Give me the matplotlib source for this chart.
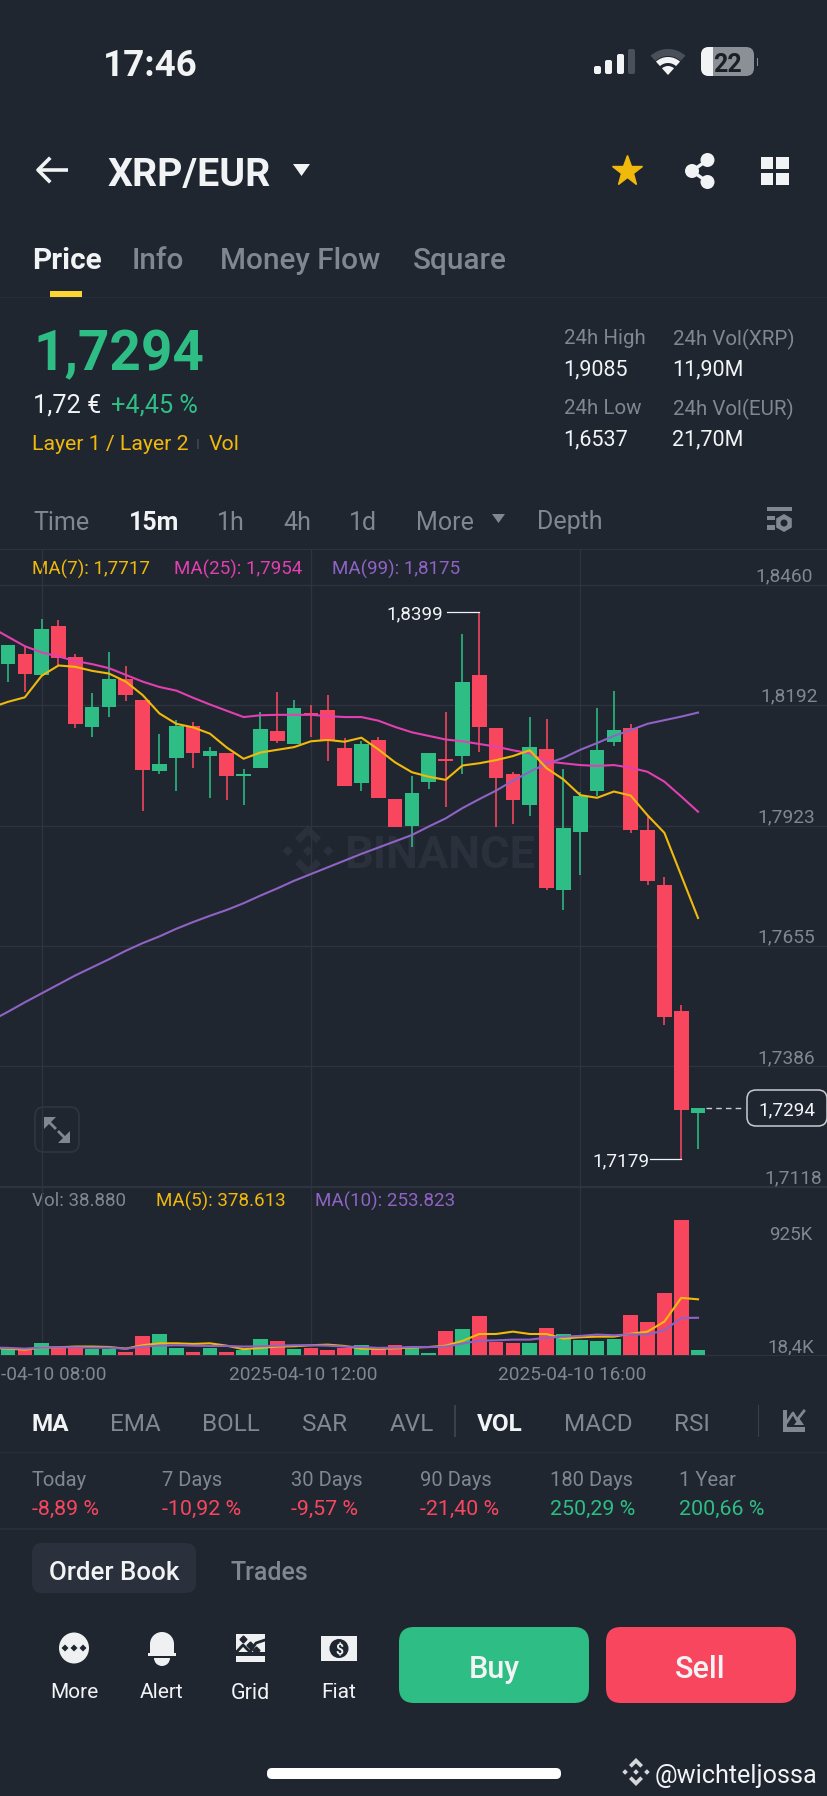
import matplotlib
matplotlib.use('Agg')
import matplotlib.pyplot as plt
from matplotlib.patches import Circle, Ellipse, FancyBboxPatch, Polygon, Rectangle, RegularPolygon, Wedge
from matplotlib.transforms import ScaledTranslation

plt.rcParams['font.family'] = ['Roboto', 'DejaVu Sans']

BG = '#1f2630'
GRID = '#2d333f'
GREEN = '#2ebd85'
RED = '#f9465f'
GRAY = '#7f8792'
WHITE = '#f1f3f5'
YELLOW = '#f0b90b'
PINK = '#e23fb0'
PURPLE = '#8f63c4'

# candles
opens = [1.8284, 1.8305, 1.8258, 1.8367, 1.8300, 1.8143, 1.8188, 1.8249, 1.8203, 1.8044, 1.8073,
         1.8144, 1.8078, 1.8084, 1.8034, 1.8052, 1.8133, 1.8105, 1.8173, 1.8180, 1.8096, 1.8018,
         1.8114, 1.7982, 1.7923, 1.8020, 1.8072, 1.8078, 1.8258, 1.8140, 1.8037, 1.7968, 1.8093,
         1.7779, 1.7909, 1.8001, 1.8109, 1.8141, 1.7913, 1.7791, 1.7510, 1.7283]
highs = [1.8326, 1.8322, 1.8383, 1.8381, 1.8306, 1.8219, 1.8310, 1.8279, 1.8203, 1.8127, 1.8159,
         1.8154, 1.8099, 1.8084, 1.8050, 1.8177, 1.8221, 1.8202, 1.8191, 1.8214, 1.8118, 1.8112,
         1.8120, 1.7982, 1.8034, 1.8084, 1.8177, 1.8350, 1.8399, 1.8140, 1.8042, 1.8165, 1.8160,
         1.8049, 1.7999, 1.8185, 1.8223, 1.8149, 1.7947, 1.7808, 1.7523, 1.7294]
lows = [1.8244, 1.8220, 1.8258, 1.8281, 1.8141, 1.8121, 1.8165, 1.8200, 1.7955, 1.8038, 1.8001,
        1.8052, 1.7985, 1.7980, 1.7968, 1.8052, 1.8108, 1.8105, 1.8121, 1.8066, 1.8012, 1.8001,
        1.7985, 1.7919, 1.7876, 1.8004, 1.7965, 1.8038, 1.8088, 1.7919, 1.7927, 1.7945, 1.7780,
        1.7735, 1.7813, 1.7988, 1.8101, 1.7906, 1.7791, 1.7479, 1.7179, 1.7203]
closes = [1.8326, 1.8262, 1.8362, 1.8297, 1.8150, 1.8187, 1.8250, 1.8215, 1.8048, 1.8061, 1.8146,
          1.8084, 1.8090, 1.8034, 1.8038, 1.8138, 1.8111, 1.8186, 1.8170, 1.8114, 1.8012, 1.8105,
          1.7985, 1.7919, 1.7996, 1.8084, 1.8066, 1.8243, 1.8142, 1.8030, 1.7979, 1.8099, 1.7784,
          1.7917, 1.7988, 1.8091, 1.8136, 1.7913, 1.7800, 1.7497, 1.7288, 1.7294]

# moving averages start one candle left of the screen
ma7 = [1.8186, 1.8199, 1.8209, 1.8257, 1.8280, 1.8277, 1.8268, 1.8262, 1.8244, 1.8214, 1.8173,
       1.8150, 1.8142, 1.8128, 1.8097, 1.8072, 1.8086, 1.8092, 1.8098, 1.8111, 1.8114, 1.8110,
       1.8119, 1.8093, 1.8064, 1.8042, 1.8032, 1.8025, 1.8057, 1.8062, 1.8069, 1.8078, 1.8091,
       1.8051, 1.8026, 1.7991, 1.7985, 1.7999, 1.7990, 1.7946, 1.7907, 1.7812, 1.7717]
ma25 = [1.8365, 1.8344, 1.8323, 1.8309, 1.8300, 1.8290, 1.8283, 1.8274, 1.8259, 1.8244, 1.8232,
        1.8224, 1.8208, 1.8193, 1.8179, 1.8165, 1.8169, 1.8170, 1.8170, 1.8170, 1.8167, 1.8165,
        1.8165, 1.8157, 1.8143, 1.8131, 1.8123, 1.8115, 1.8111, 1.8105, 1.8099, 1.8091, 1.8084,
        1.8066, 1.8062, 1.8058, 1.8056, 1.8058, 1.8052, 1.8043, 1.8021, 1.7988, 1.7954]
ma99 = [1.7488, 1.7508, 1.7529, 1.7549, 1.7569, 1.7589, 1.7607, 1.7625, 1.7644, 1.7661, 1.7676,
        1.7693, 1.7708, 1.7722, 1.7735, 1.7750, 1.7767, 1.7783, 1.7800, 1.7815, 1.7830, 1.7845,
        1.7860, 1.7874, 1.7888, 1.7902, 1.7921, 1.7939, 1.7962, 1.7982, 1.8001, 1.8023, 1.8043,
        1.8061, 1.8074, 1.8092, 1.8107, 1.8123, 1.8136, 1.8150, 1.8158, 1.8166, 1.8175]

# volume in thousands
volumes = [40.6, 36, 81, 50, 50, 45, 43, 25, 133, 142, 50, 23, 52, 20, 36, 108, 99, 43, 50, 34, 50,
           72, 52, 70, 54, 18, 162, 180, 266, 88, 83, 81, 185, 144, 106, 97, 110, 275, 223, 419, 915,
           38.88]
vol_ma5 = [49.6, 45, 38, 52, 54, 59, 59, 56, 45, 68, 81, 81, 77, 81, 65, 41, 50, 59, 61, 68, 72, 63,
           45, 43, 47, 52, 56, 65, 97, 144, 144, 160, 144, 144, 113, 122, 126, 126, 146, 160, 228,
           388, 378.6]
vol_ma10 = [52, 50, 45, 52, 54, 54, 52, 52, 45, 59, 65, 68, 65, 63, 63, 59, 61, 65, 68, 68, 65, 59,
            56, 50, 52, 56, 56, 59, 79, 99, 101, 106, 106, 119, 126, 131, 140, 135, 142, 140, 169,
            252, 253.8]

price_ticks = [1.8460, 1.8192, 1.7923, 1.7655, 1.7386, 1.7118]
price_tick_labels = ['1,8460', '1,8192', '1,7923', '1,7655', '1,7386', '1,7118']
time_ticks = [2, 18, 34]
# the first label runs off the left edge of the screen, only this part shows
time_labels = ['-04-10 08:00', '2025-04-10 12:00', '2025-04-10 16:00']
period_names = ['Today', '7 Days', '30 Days', '90 Days', '180 Days', '1 Year']
period_changes = ['-8,89 %', '-10,92 %', '-9,57 %', '-21,40 %', '250,29 %', '200,66 %']

W, H = 828, 1796
fig = plt.figure(figsize=(W / 100, H / 100), dpi=100, facecolor=BG)

# whole screen in pixel coordinates, sits under the chart axes
ui = fig.add_axes([0, 0, 1, 1], zorder=0)
ui.set_xlim(0, W)
ui.set_ylim(H, 0)
ui.axis('off')


def txt(x, y, s, color=WHITE, size=14.5, ha='left', weight='normal'):
    ui.text(x, y, s, color=color, fontsize=size, ha=ha, va='center_baseline', fontweight=weight)


def rect(x0, y0, x1, y1, color):
    ui.add_patch(Rectangle((x0, y0), x1 - x0, y1 - y0, fc=color, ec='none'))


def rounded(x0, y0, x1, y1, r, fc, ec='none', lw=0):
    ui.add_patch(FancyBboxPatch((x0 + r, y0 + r), x1 - x0 - 2 * r, y1 - y0 - 2 * r,
                                boxstyle=f'round,pad={r},rounding_size={r}', fc=fc, ec=ec, lw=lw))


def logo(cx, cy, r, color):
    """Binance mark: three small diamonds and two chevrons."""
    for dx in (-0.78, 0, 0.78):
        s = 0.2 * r
        x = cx + dx * r
        ui.add_patch(Polygon([(x, cy - s), (x + s, cy), (x, cy + s), (x - s, cy)], fc=color, ec='none'))
    for sign in (-1, 1):
        pts = [(0, 1), (0.5, 0.5), (0.31, 0.31), (0, 0.62), (-0.31, 0.31), (-0.5, 0.5)]
        ui.add_patch(Polygon([(cx + a * r, cy + sign * b * r) for a, b in pts], fc=color, ec='none'))


# --- status bar
txt(103, 62, '17:46', size=26.5, weight='bold')
for x0, x1, top, col in [(594, 601, 66, WHITE), (605, 612, 60, WHITE), (617, 624, 54, WHITE), (628, 635, 49, '#4a505a')]:
    rounded(x0, top, x1, 74, 2, col)
ui.add_patch(Wedge((668, 75), 26, 228, 312, width=7, fc='#4a505a', ec='none'))
ui.add_patch(Wedge((668, 75), 18, 228, 312, width=6, fc=WHITE, ec='none'))
ui.add_patch(Wedge((668, 75), 9, 228, 312, fc=WHITE, ec='none'))
rounded(701, 47, 754, 76, 8, '#8b8f96')
rounded(701, 47, 722, 76, 8, WHITE)
rect(713, 47, 722, 76, '#8b8f96')
rect(757, 58, 758, 66, '#8b8f96')
txt(728, 62, '22', color='#1b1f27', size=18, ha='center', weight='bold')

# --- header
ui.plot([39, 68], [170, 170], color=WHITE, lw=2.6, solid_capstyle='butt')
ui.plot([49, 38, 49], [159, 170, 181], color=WHITE, lw=2.6)
txt(108, 171, 'XRP/EUR', size=28.3, weight='bold')
ui.add_patch(Polygon([(293, 164), (310, 164), (301.5, 176)], fc=WHITE, ec='none'))
ui.plot([627], [171], marker='*', ms=23, color=YELLOW, mec=YELLOW)
ui.plot([707.5, 692, 707.5], [160, 171, 182], color=WHITE, lw=2.4)
for cx, cy in [(707.5, 160), (692, 171), (707.5, 182)]:
    ui.add_patch(Circle((cx, cy), 7, fc=WHITE, ec='none'))
for x0, x1, y0, y1 in [(761, 773, 157, 169), (776, 789, 157, 169), (761, 773, 173, 185), (776, 789, 173, 185)]:
    rect(x0, y0, x1, y1, WHITE)

# --- tabs
txt(32, 258, 'Price', size=21.4, weight='bold')
txt(132, 258, 'Info', color=GRAY, size=21.4, weight='medium')
txt(220, 258, 'Money Flow', color=GRAY, size=21.4, weight='medium')
txt(413, 258, 'Square', color=GRAY, size=21.4, weight='medium')
rect(50, 291, 82, 296.5, '#fcd535')
rect(0, 296.5, W, 298, '#282e39')

# --- price block
txt(33, 350, '1,7294', color=GREEN, size=39.5, weight='bold')
txt(33, 403, '1,72 €', size=18.2)
txt(111, 403, '+4,45 %', color=GREEN, size=18.2)
txt(32, 443, 'Layer 1 / Layer 2', color=YELLOW, size=15.3)
rect(197.5, 439, 199, 449, '#3a404b')
txt(209, 443, 'Vol', color=YELLOW, size=15.3)
txt(564, 337, '24h High', color=GRAY, size=14.8)
txt(673, 337, '24h Vol(XRP)', color=GRAY, size=14.8)
txt(563, 367, '1,9085', size=15.5)
txt(672, 367, '11,90M', size=15.5)
txt(564, 407, '24h Low', color=GRAY, size=14.8)
txt(673, 407, '24h Vol(EUR)', color=GRAY, size=14.8)
txt(563, 437, '1,6537', size=15.5)
txt(672, 437, '21,70M', size=15.5)

# --- interval row
for x, s in [(33, 'Time'), (217, '1h'), (283, '4h'), (349, '1d'), (416, 'More'), (537, 'Depth')]:
    txt(x, 520, s, color=GRAY, size=18)
txt(129, 520, '15m', size=18, weight='bold')
ui.add_patch(Polygon([(492, 514), (505, 514), (498.5, 523)], fc=GRAY, ec='none'))
rect(767, 507, 792, 511, GRAY)
rect(767, 516, 775, 520, GRAY)
rect(767, 525, 775, 530, GRAY)
ui.add_patch(RegularPolygon((784, 523), 6, radius=9, fc=GRAY, ec='none'))
ui.add_patch(Circle((784, 523), 3.5, fc=BG, ec='none'))

# --- chart legends and watermark
txt(32, 567, 'MA(7): 1,7717', color=YELLOW, size=13.5)
txt(174, 567, 'MA(25): 1,7954', color=PINK, size=13.5)
txt(332, 567, 'MA(99): 1,8175', color=PURPLE, size=13.5)
logo(308, 851, 26, '#2a313c')
txt(344, 851, 'BINANCE', color='#2a313c', size=32.5, weight='bold')

# --- price panel
PX = 16.83
x_left = -0.475
x_right = x_left + W / PX
top_px, bottom_px = 549, 1186.7
px_per_unit = 4487
ax = fig.add_axes([0, 1 - bottom_px / H, 1, (bottom_px - top_px) / H], zorder=1)
ax.patch.set_alpha(0)
ax.set_xlim(x_left, x_right)
ax.set_ylim(1.8192 - (bottom_px - 705) / px_per_unit, 1.8192 + (705 - top_px) / px_per_unit)

candle_x = list(range(len(opens)))
colors = [GREEN if c >= o else RED for o, c in zip(opens, closes)]
ax.vlines(candle_x, lows, highs, colors=colors, lw=1.15, zorder=2)
ax.bar(candle_x, [abs(c - o) for o, c in zip(opens, closes)], bottom=[min(o, c) for o, c in zip(opens, closes)],
       width=0.87, color=colors, zorder=3)
ma_x = list(range(-1, len(opens)))
ax.plot(ma_x, ma99, color=PURPLE, lw=1.5, zorder=4)
ax.plot(ma_x, ma25, color=PINK, lw=1.5, zorder=5)
ax.plot(ma_x, ma7, color=YELLOW, lw=1.5, zorder=6)

ax.set_xticks(time_ticks)
ax.set_yticks(price_ticks)
ax.grid(color=GRID, lw=1, zorder=0)
ax.tick_params(length=0, labelbottom=False, labelleft=False)
for name, spine in ax.spines.items():
    spine.set_visible(name == 'top')
    spine.set_color(GRID)
ax.axhline(price_ticks[-1], color=GRID, lw=1.6, clip_on=False)

offset = ScaledTranslation(0, 10.5 / 100, fig.dpi_scale_trans)
label_tf = ax.get_yaxis_transform() + offset
for p, s, x_frac in zip(price_ticks, price_tick_labels, [0.947, 0.953, 0.95, 0.95, 0.949, 0.958]):
    ax.text(x_frac, p, s, transform=label_tf, color=GRAY, fontsize=13.8, ha='center', va='center_baseline')

# high / low markers
hi_i = highs.index(max(highs))
lo_i = lows.index(min(lows))
ax.plot([hi_i - 1.9, hi_i], [highs[hi_i]] * 2, color=WHITE, lw=0.9, zorder=7)
ax.text(hi_i - 2.15, highs[hi_i], '1,8399', color=WHITE, fontsize=13.6, ha='right', va='center_baseline')
ax.plot([lo_i, lo_i - 1.85], [lows[lo_i]] * 2, color=WHITE, lw=0.9, zorder=7)
ax.text(lo_i - 1.85, lows[lo_i], '1,7179', color=WHITE, fontsize=13.6, ha='right', va='center_baseline')

# last price tag
ax.plot([41.45, 43.8], [closes[-1]] * 2, color='#c9ccd1', lw=1, ls=(0, (4, 3)), zorder=7)
rounded(747, 1090, 827, 1126, 9, BG, ec='#c9ccd1', lw=1.1)
txt(787, 1108, '1,7294', size=13.6, ha='center')

# expand button
rounded(35, 1107, 79, 1152, 9, 'none', ec=GRID, lw=1.4)
ui.add_patch(Polygon([(44, 1117), (56, 1117), (44, 1129)], fc=GRAY, ec='none'))
ui.add_patch(Polygon([(70, 1143), (58, 1143), (70, 1131)], fc=GRAY, ec='none'))
ui.plot([48, 55], [1121, 1128], color=GRAY, lw=2)
ui.plot([59, 66], [1132, 1139], color=GRAY, lw=2)

# --- volume panel
txt(32, 1199, 'Vol: 38.880', color=GRAY, size=13.5)
txt(156, 1199, 'MA(5): 378.613', color=YELLOW, size=13.5)
txt(315, 1199, 'MA(10): 253.823', color=PURPLE, size=13.5)
txt(791, 1233, '925K', color=GRAY, size=13.5, ha='center')
txt(791, 1345, '18,4K', color=GRAY, size=13.5, ha='center')

vol_base = 1355.3
vax = fig.add_axes([0, 1 - vol_base / H, 1, (vol_base - bottom_px) / H], zorder=1)
vax.patch.set_alpha(0)
vax.set_xlim(x_left, x_right)
vax.set_ylim(0, (vol_base - bottom_px) * 6.76)
vax.bar(candle_x, volumes, width=0.87, color=colors, zorder=3)
vax.plot(ma_x, vol_ma5, color=YELLOW, lw=1.5, zorder=4)
vax.plot(ma_x, vol_ma10, color=PURPLE, lw=1.5, zorder=5)
vax.set_yticks([])
vax.set_xticks(time_ticks)
vax.set_xticklabels(time_labels, color=GRAY, fontsize=13.7)
vax.grid(axis='x', color=GRID, lw=1, zorder=0)
vax.tick_params(length=0, pad=8)
for name, spine in vax.spines.items():
    spine.set_visible(name == 'bottom')
    spine.set_color(GRID)
shift = ScaledTranslation(-8 / 100, 0, fig.dpi_scale_trans)
for lab in vax.get_xticklabels():
    lab.set_transform(lab.get_transform() + shift)
first = vax.get_xticklabels()[0]
first.set_ha('left')
first.set_transform(first.get_transform() + ScaledTranslation(-33 / 100, 0, fig.dpi_scale_trans))

# --- indicator row
for x, s in [(110, 'EMA'), (202, 'BOLL'), (302, 'SAR'), (390, 'AVL'), (564, 'MACD'), (674, 'RSI')]:
    txt(x, 1422, s, color=GRAY, size=17.5)
txt(32, 1422, 'MA', size=17.5, weight='bold')
txt(477, 1422, 'VOL', size=17.5, weight='bold')
rect(454.5, 1405, 456, 1437, '#3a404b')
rect(758, 1405, 759.5, 1437, '#3a404b')
rect(783, 1410, 787, 1432, GRAY)
rect(783, 1427, 805, 1432, GRAY)
ui.plot([787, 793, 797, 804], [1422, 1413, 1420, 1411], color=GRAY, lw=2)
ui.add_patch(Polygon([(794, 1425), (799, 1418), (804, 1425)], fc=GRAY, ec='none'))
rect(0, 1451.5, W, 1453, '#282e39')

# --- performance row
period_x = [32, 162, 291, 420, 550, 679]
for x, name, change in zip(period_x, period_names, period_changes):
    txt(x, 1478, name, color=GRAY)
    txt(x, 1507, change, color=RED if change.startswith('-') else GREEN, size=15.4)
rect(0, 1528, W, 1530, '#282e39')

# --- order book tabs
rounded(32, 1543, 196, 1593, 10, '#2a303c')
txt(49, 1570, 'Order Book', size=18.6, weight='medium')
txt(231, 1570, 'Trades', color=GRAY, size=18, weight='medium')

# --- bottom bar
ICON = '#eef0f2'
ui.add_patch(Ellipse((74, 1648), 30, 31, fc=ICON, ec='none'))
for x in (65, 74, 83):
    ui.add_patch(Polygon([(x, 1644.5), (x + 3.5, 1648), (x, 1651.5), (x - 3.5, 1648)], fc=BG, ec='none'))
txt(74, 1691, 'More', size=15, ha='center')

ui.add_patch(Wedge((162, 1644), 12, 180, 360, fc=ICON, ec='none'))
rect(150, 1644, 174, 1653, ICON)
rect(148, 1653, 176, 1655.5, ICON)
ui.add_patch(Wedge((162, 1658), 8, 0, 180, fc=ICON, ec='none'))
txt(162, 1691, 'Alert', size=15, ha='center')

rect(236.5, 1634, 265, 1652, ICON)
ui.plot([236.5, 243, 250, 256, 265], [1652, 1645, 1652, 1643, 1640], color=BG, lw=2)
ui.plot([243, 250, 256], [1639, 1645, 1650], color=BG, lw=0, marker='D', ms=3.5)
rect(236.5, 1656, 265, 1662, ICON)
txt(250, 1691, 'Grid', size=15.5, ha='center')

rect(321.5, 1636, 357, 1661, ICON)
ui.add_patch(Circle((339, 1648.5), 9.5, fc=BG, ec='none'))
txt(339, 1649, '$', size=10, ha='center', weight='bold')
txt(339, 1691, 'Fiat', size=15, ha='center')

rounded(399, 1627, 589, 1703, 15, GREEN)
txt(494, 1667, 'Buy', size=22, ha='center', weight='medium')
rounded(606, 1627, 796, 1703, 15, RED)
txt(700, 1667, 'Sell', size=22, ha='center', weight='medium')

rounded(267, 1768, 561, 1779, 5, 'white')
logo(636, 1772, 14, '#d5d7da')
txt(655, 1773, '@wichteljossa', size=18.2)

fig.savefig('out.png', dpi=100, facecolor=BG)
